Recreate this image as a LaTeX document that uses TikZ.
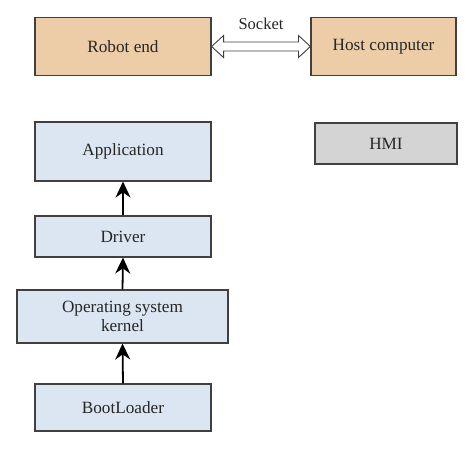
\documentclass[tikz,border=0pt]{standalone}
\usepackage{fontspec}
\setmainfont{Liberation Serif}
\usetikzlibrary{calc,arrows.meta}
\definecolor{orng}{HTML}{EDCDA7}
\definecolor{lblue}{HTML}{DCE6F2}
\definecolor{lgray}{HTML}{D4D4D4}
\definecolor{edge}{HTML}{404040}
\begin{document}
\begin{tikzpicture}[x=1pt,y=-1pt,
  box/.style={draw=edge,line width=1.1pt,inner sep=0pt,align=center,font=\fontsize{17.2}{19.5}\selectfont,text=black!85},
  up/.style={-{Stealth[length=16pt,width=15pt]},line width=1.8pt}]
\useasboundingbox (0,0) rectangle (474,448);
\node[box,fill=orng,minimum width=176pt,minimum height=58pt] (robot) at (123,46.5) {Robot end};
\node[box,fill=orng,minimum width=145pt,minimum height=58pt] (host) at (383.5,46.5) {Host computer};
\node[box,fill=lgray,minimum width=142pt,minimum height=41pt] (hmi) at (386,143.5) {HMI};
\node[box,fill=lblue,minimum width=176pt,minimum height=59pt] (app) at (123,151.5) {Application};
\node[box,fill=lblue,minimum width=176pt,minimum height=41pt] (drv) at (123,236.5) {Driver};
\node[box,fill=lblue,minimum width=211pt,minimum height=53pt] (os) at (122.5,316.5) {Operating system\\[-1pt]kernel};
\node[box,fill=lblue,minimum width=176pt,minimum height=47pt] (boot) at (123,407.5) {BootLoader};
\node[font=\fontsize{16.5}{19}\selectfont,text=black!85] (sock) at (261,24) {Socket};
\draw[edge,line width=0.9pt,fill=white]
  (robot.east)
  -- ($(robot.east)+(12,-11)$) -- ($(robot.east)+(12,-4.5)$)
  -- ($(host.west)+(-12,-4.5)$) -- ($(host.west)+(-12,-11)$)
  -- (host.west)
  -- ($(host.west)+(-12,11)$) -- ($(host.west)+(-12,4.5)$)
  -- ($(robot.east)+(12,4.5)$) -- ($(robot.east)+(12,11)$) -- cycle;
\draw[up] (drv.north) -- (app.south);
\draw[up] (os.north) -- (drv.south);
\draw[up] (boot.north) -- (os.south);
\end{tikzpicture}
\end{document}
